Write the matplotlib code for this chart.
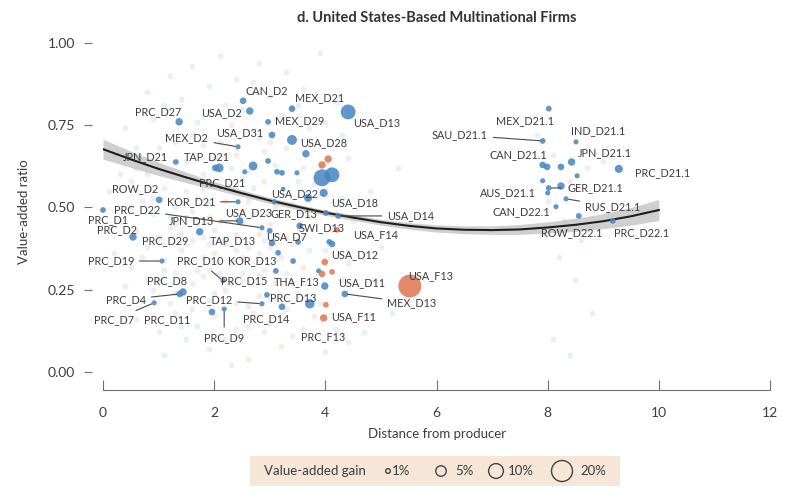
import matplotlib.pyplot as plt
import numpy as np

plt.rcParams['font.family'] = ['Lato', 'DejaVu Sans']

# highlighted sectors: distance, value-added ratio, value-added gain (%), type
pt_x = [2.52, 2.64, 1.37, 2.97, 2.43, 1.31, 2.02, 2.09, 2.70, 2.55,
        2.97, 1.01, 2.43, 0.00, 3.40, 4.41, 3.04, 3.40, 3.65, 3.13,
        3.22, 3.49, 3.94, 4.12, 3.97, 3.69, 3.24, 3.08, 4.01, 4.23,
        3.54, 3.04, 3.51, 4.07, 4.12, 3.15, 3.42, 3.11, 3.88, 3.99,
        4.35, 2.95, 3.72, 3.22, 2.86, 2.46, 2.86, 3.00, 0.54, 1.74,
        1.06, 2.16, 1.44, 1.38, 0.92, 1.96, 2.18,
        8.02, 7.91, 8.51, 8.43, 7.91, 7.99, 8.24, 9.28, 8.53, 7.91,
        8.24, 8.02, 8.00, 8.33, 8.15, 8.56, 9.17,
        4.05, 3.94, 4.21, 3.99, 3.94, 4.12, 4.01, 3.97, 5.52]
pt_y = [0.824, 0.793, 0.760, 0.760, 0.684, 0.638, 0.620, 0.620, 0.626, 0.608,
        0.641, 0.523, 0.517, 0.492, 0.800, 0.790, 0.720, 0.705, 0.663, 0.608,
        0.605, 0.605, 0.590, 0.599, 0.544, 0.529, 0.556, 0.517, 0.483, 0.474,
        0.444, 0.392, 0.395, 0.395, 0.389, 0.362, 0.337, 0.307, 0.307, 0.261,
        0.237, 0.234, 0.207, 0.198, 0.207, 0.459, 0.438, 0.429, 0.410, 0.426,
        0.337, 0.277, 0.243, 0.237, 0.210, 0.182, 0.191,
        0.800, 0.702, 0.699, 0.638, 0.629, 0.623, 0.623, 0.617, 0.596, 0.581,
        0.565, 0.559, 0.544, 0.526, 0.502, 0.474, 0.459,
        0.647, 0.629, 0.432, 0.334, 0.298, 0.304, 0.204, 0.164, 0.261]
pt_gain = [2.0, 2.5, 2.5, 1.5, 1.2, 1.5, 2.0, 3.5, 3.5, 1.2,
           1.5, 2.0, 1.2, 1.5, 2.0, 10, 2.0, 4.5, 2.5, 1.5,
           1.5, 1.2, 13, 10, 3.0, 3.0, 1.0, 1.2, 1.5, 1.5,
           2.0, 2.0, 1.5, 1.5, 2.0, 1.5, 1.5, 1.5, 1.2, 2.5,
           2.0, 1.5, 4.0, 2.0, 1.2, 2.5, 1.2, 1.5, 2.5, 2.5,
           1.2, 1.2, 2.5, 2.0, 1.2, 2.0, 1.2,
           1.5, 1.5, 1.2, 2.5, 2.0, 2.0, 2.0, 3.0, 1.2, 1.2,
           2.5, 1.5, 1.2, 1.2, 1.2, 1.5, 1.5,
           2.5, 2.5, 1.5, 2.0, 2.0, 1.5, 1.5, 2.5, 24]
pt_type = ['D'] * 74 + ['F'] * 9

# background sectors (faint)
cloud_b_x = [1.6, 2.1, 2.8, 3.3, 2.4, 3.9, 0.8, 1.4, 1.9, 2.2, 3.0, 3.6, 4.2, 1.1, 2.7,
             0.4, 0.9, 1.6, 1.9, 2.8, 3.2, 3.7, 4.3, 2.1, 0.2, 0.6, 1.0, 1.5, 1.8,
             3.6, 4.4, 0.8, 1.2, 2.0, 2.9, 0.1, 0.5, 0.7, 1.4, 3.8, 4.3, 1.9, 1.3,
             2.5, 0.3, 0.9, 1.2, 1.5, 4.5, 1.0, 1.6, 2.2, 2.9, 3.5, 0.2, 0.5, 0.8,
             1.1, 1.7, 4.0, 4.4, 1.3, 1.9, 2.5, 3.4, 0.4, 0.7, 1.0, 1.3, 1.9, 3.5,
             3.9, 4.3, 1.8, 2.4, 0.9, 0.6, 1.0, 1.3, 1.7, 2.4, 3.0, 3.4, 4.2, 1.5,
             2.2, 1.1, 1.9, 4.0, 4.4, 2.3, 7.8, 8.1, 8.7, 8.0, 8.3, 8.9, 8.2, 8.5,
             8.8, 8.1, 8.4, 7.9, 9.0, 4.8, 5.0, 5.2, 4.7, 5.3,
             1.5, 1.8, 2.3, 2.7, 3.1, 3.5, 0.9, 1.2, 1.4, 1.7, 2.0, 2.5, 2.8, 3.3,
             3.7, 1.1, 1.5, 1.8, 2.1, 2.4, 0.7, 1.2, 1.6, 2.0, 2.6, 3.0, 3.6, 0.8,
             1.4, 2.9, 3.6, 0.5, 0.3, 1.0, 1.3, 1.7, 2.5, 3.5, 4.0, 0.6]
cloud_b_y = [0.93, 0.96, 0.94, 0.91, 0.89, 0.97, 0.85, 0.83, 0.87, 0.81, 0.84, 0.86, 0.82, 0.81, 0.88,
             0.74, 0.77, 0.72, 0.79, 0.71, 0.78, 0.74, 0.72, 0.70, 0.66, 0.62, 0.68, 0.64, 0.69,
             0.62, 0.65, 0.60, 0.61, 0.65, 0.67, 0.55, 0.58, 0.52, 0.59, 0.57, 0.53, 0.51, 0.50,
             0.59, 0.46, 0.48, 0.44, 0.47, 0.46, 0.41, 0.49, 0.40, 0.40, 0.49, 0.36, 0.32, 0.38,
             0.34, 0.31, 0.37, 0.33, 0.30, 0.39, 0.30, 0.39, 0.26, 0.22, 0.28, 0.24, 0.22, 0.24,
             0.21, 0.28, 0.29, 0.21, 0.25, 0.16, 0.12, 0.18, 0.14, 0.13, 0.15, 0.11, 0.13, 0.10,
             0.10, 0.05, 0.07, 0.06, 0.09, 0.02, 0.72, 0.66, 0.62, 0.52, 0.46, 0.50, 0.35, 0.28,
             0.18, 0.10, 0.05, 0.42, 0.64, 0.55, 0.38, 0.18, 0.12, 0.62,
             0.55, 0.60, 0.62, 0.56, 0.63, 0.58, 0.53, 0.47, 0.42, 0.45, 0.43, 0.45, 0.36, 0.30,
             0.37, 0.31, 0.33, 0.35, 0.30, 0.37, 0.35, 0.21, 0.19, 0.24, 0.20, 0.22, 0.27, 0.28,
             0.14, 0.12, 0.13, 0.50, 0.60, 0.63, 0.70, 0.76, 0.80, 0.81, 0.76, 0.68]
cloud_o_x = [2.4, 2.6, 3.3, 2.0, 2.3, 2.6, 2.9, 3.4, 1.7, 2.1, 2.4, 2.7, 3.0, 3.3,
             3.7, 1.8, 2.0, 2.3, 2.6, 2.9, 3.2, 3.6, 1.4, 2.2, 2.5, 2.8, 3.1, 1.6,
             2.0, 2.7, 3.8, 2.6, 3.2, 1.1, 0.6, 4.1, 8.4, 8.6, 4.9, 2.3, 1.2,
             2.2, 2.5, 2.8, 3.1, 3.5, 1.9, 2.2, 2.5, 2.8, 3.0, 3.4, 1.6, 1.9, 2.3,
             2.6, 3.3, 1.3, 2.7, 3.0, 1.8]
cloud_o_y = [0.66, 0.61, 0.68, 0.57, 0.55, 0.52, 0.58, 0.51, 0.53, 0.46, 0.42, 0.48, 0.45, 0.41,
             0.47, 0.41, 0.36, 0.33, 0.38, 0.31, 0.35, 0.32, 0.37, 0.25, 0.28, 0.23, 0.27, 0.27,
             0.17, 0.18, 0.17, 0.04, 0.08, 0.56, 0.43, 0.43, 0.58, 0.40, 0.28, 0.75, 0.90,
             0.52, 0.49, 0.42, 0.50, 0.44, 0.47, 0.39, 0.35, 0.29, 0.38, 0.27, 0.40, 0.31, 0.27,
             0.14, 0.19, 0.45, 0.62, 0.70, 0.56]

# fitted trend with confidence band
trend_x = [0, 0.5, 1, 1.5, 2, 2.5, 3, 3.5, 4, 4.5, 5, 5.5, 6, 6.5, 7, 7.5, 8, 8.5, 9, 9.5, 10]
trend_y = [0.677, 0.646, 0.617, 0.591, 0.566, 0.543, 0.521, 0.502, 0.484, 0.469, 0.455,
           0.444, 0.436, 0.432, 0.431, 0.433, 0.439, 0.447, 0.458, 0.473, 0.492]
trend_se = [0.030, 0.025, 0.020, 0.016, 0.012, 0.010, 0.009, 0.008, 0.008, 0.008, 0.009,
            0.010, 0.011, 0.012, 0.013, 0.015, 0.017, 0.020, 0.023, 0.027, 0.032]

lab_text = ['CAN_D2', 'MEX_D21', 'PRC_D27', 'USA_D2', 'MEX_D29', 'USA_D13', 'USA_D31',
            'MEX_D2', 'USA_D28', 'JPN_D21', 'TAP_D21', 'PRC_D21', 'ROW_D2', 'USA_D22',
            'KOR_D21', 'USA_D18', 'PRC_D22', 'USA_D23', 'GER_D13', 'USA_D14', 'PRC_D1',
            'JPN_D13', 'SWI_D13', 'PRC_D2', 'USA_F14', 'USA_D7', 'PRC_D29', 'TAP_D13',
            'USA_D12', 'PRC_D19', 'PRC_D10', 'KOR_D13', 'USA_F13', 'PRC_D8', 'PRC_D15',
            'THA_F13', 'USA_D11', 'PRC_D13', 'PRC_D4', 'PRC_D12', 'MEX_D13', 'USA_F11',
            'PRC_D14', 'PRC_D7', 'PRC_D11', 'PRC_D9', 'PRC_F13',
            'MEX_D21.1', 'IND_D21.1', 'SAU_D21.1', 'JPN_D21.1', 'CAN_D21.1', 'PRC_D21.1',
            'GER_D21.1', 'AUS_D21.1', 'RUS_D21.1', 'CAN_D22.1', 'ROW_D22.1', 'PRC_D22.1']
lab_x = [2.95, 3.90, 0.99, 2.14, 3.54, 4.93, 2.46, 1.51, 3.97, 0.76, 1.87, 2.14, 0.58, 3.44,
         1.58, 4.53, 0.61, 2.62, 3.44, 5.54, 0.09, 1.60, 3.94, 0.25, 4.91, 3.31, 1.12, 2.34,
         4.53, 0.14, 1.74, 2.68, 5.90, 1.15, 2.54, 3.49, 4.66, 3.42, 0.41, 1.91, 5.56, 4.50,
         2.93, 0.20, 1.15, 2.18, 3.96,
         7.59, 8.90, 6.42, 9.03, 7.48, 10.07, 8.85, 7.28, 9.17, 7.52, 8.44, 9.69]
lab_y = [0.854, 0.833, 0.790, 0.787, 0.763, 0.757, 0.726, 0.711, 0.696, 0.653, 0.653, 0.574,
         0.556, 0.541, 0.517, 0.514, 0.492, 0.483, 0.480, 0.474, 0.462, 0.459, 0.438, 0.432,
         0.416, 0.410, 0.398, 0.398, 0.356, 0.337, 0.337, 0.337, 0.292, 0.277, 0.277, 0.274,
         0.271, 0.225, 0.219, 0.219, 0.210, 0.167, 0.161, 0.158, 0.158, 0.103, 0.106,
         0.763, 0.733, 0.720, 0.666, 0.660, 0.605, 0.559, 0.544, 0.502, 0.486, 0.422, 0.422]
# labels joined to their point by a thin line (point index)
leaders = {'MEX_D2': 4, 'KOR_D21': 12, 'PRC_D22': 46, 'JPN_D13': 45, 'USA_D14': 29,
           'PRC_D19': 50, 'PRC_D10': 51, 'PRC_D4': 53, 'PRC_D12': 44, 'PRC_D7': 54,
           'PRC_D9': 56, 'MEX_D13': 40, 'SAU_D21.1': 58, 'GER_D21.1': 68, 'RUS_D21.1': 70}

legend_gain = [1, 5, 10, 20]

BLUE = '#4a88c2'
ORANGE = '#e07a55'
TXT = '#3c3c3c'


def gain_to_s(g):
    return 11.4 * np.asarray(g, dtype=float)


fig = plt.figure(figsize=(8, 5), dpi=100)
ax = fig.add_axes([0.12875, 0.22, 0.83375, 0.714])

ax.scatter(cloud_b_x, cloud_b_y, s=18, color='#a3c3e2', alpha=0.25, linewidths=0, zorder=1)
ax.scatter(cloud_o_x, cloud_o_y, s=18, color='#ebb59c', alpha=0.28, linewidths=0, zorder=1)

lo = np.array(trend_y) - np.array(trend_se)
hi = np.array(trend_y) + np.array(trend_se)
ax.fill_between(trend_x, lo, hi, color='#c4c4c4', alpha=0.8, linewidth=0, zorder=2)
ax.plot(trend_x, trend_y, color='#1e1e1e', lw=1.5, zorder=3)

cols = [BLUE if t == 'D' else ORANGE for t in pt_type]
ax.scatter(pt_x, pt_y, s=gain_to_s(pt_gain), c=cols, alpha=0.88, linewidths=0,
           zorder=4, clip_on=False)

for t, lx, ly in zip(lab_text, lab_x, lab_y):
    if t in leaders:
        i = leaders[t]
        ax.annotate(t, xy=(pt_x[i], pt_y[i]), xytext=(lx, ly), ha='center', va='center',
                    fontsize=7.8, color=TXT, zorder=5,
                    arrowprops=dict(arrowstyle='-', color='#4a4a4a', lw=0.8,
                                    shrinkA=2, shrinkB=2))
    else:
        ax.text(lx, ly, t, ha='center', va='center', fontsize=7.8, color=TXT, zorder=5)

ax.set_xlim(0, 12)
ax.set_ylim(-0.055, 1.03)
ax.set_xticks(range(0, 13, 2))
ax.set_yticks([0, 0.25, 0.5, 0.75, 1.0])
ax.set_yticklabels(['%.2f' % v for v in [0, 0.25, 0.5, 0.75, 1.0]])
for s in ['top', 'right', 'left']:
    ax.spines[s].set_visible(False)
ax.spines['left'].set_position(('outward', 8))
ax.spines['bottom'].set_color('#707070')
ax.tick_params(axis='x', direction='in', length=7, width=0.8, color='#707070',
               labelsize=10, labelcolor=TXT, pad=12)
ax.tick_params(axis='y', direction='out', length=6, width=0.8, color='#707070',
               labelsize=10, labelcolor=TXT, pad=6)
ax.set_xlabel('Distance from producer', fontsize=9.5, color=TXT, labelpad=7)
ax.set_ylabel('Value-added ratio', fontsize=9.5, color=TXT, labelpad=13)
ax.set_title('d. United States-Based Multinational Firms', fontsize=10.5,
             fontweight='bold', color='#333333', pad=8)

# legend box
lg = fig.add_axes([0.3125, 0.028, 0.4625, 0.06])
lg.set_facecolor('#f5e6d8')
lg.set_xlim(0, 370)
lg.set_ylim(0, 30)
lg.set_xticks([])
lg.set_yticks([])
for s in lg.spines.values():
    s.set_visible(False)
lg.text(14, 15, 'Value-added gain', fontsize=9.5, color=TXT, va='center')
leg_cx = [138, 191, 246, 312]
leg_tx = [142, 205, 258, 330]
lg.scatter(leg_cx, [15] * 4, s=gain_to_s(legend_gain), facecolors='none',
           edgecolors='#444444', linewidths=1.0, clip_on=False)
for g, tx in zip(legend_gain, leg_tx):
    lg.text(tx, 15, '%d%%' % g, fontsize=9.5, color=TXT, va='center')

fig.savefig('out.png', dpi=100)
